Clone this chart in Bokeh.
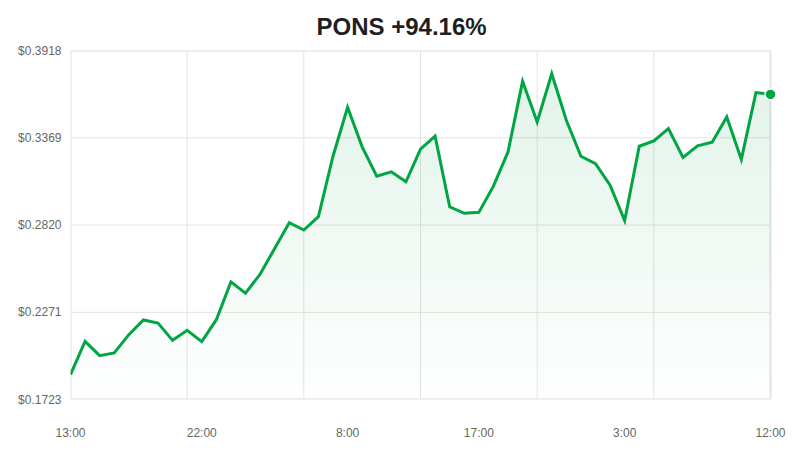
import numpy as np
from bokeh.plotting import figure
from bokeh.models import FixedTicker, PrintfTickFormatter, Range1d
from bokeh.embed import file_html
from bokeh.resources import INLINE

title_text = "PONS +94.16%"
prices = [0.1880, 0.2089, 0.1999, 0.2016, 0.2131, 0.2223, 0.2204, 0.2095, 0.2158, 0.2087,
          0.2225, 0.2463, 0.2392, 0.2511, 0.2673, 0.2835, 0.2789, 0.2873, 0.3253, 0.3561,
          0.3312, 0.3128, 0.3155, 0.3092, 0.3297, 0.3379, 0.2935, 0.2894, 0.2900, 0.3065,
          0.3280, 0.3724, 0.3468, 0.3772, 0.3479, 0.3253, 0.3207, 0.3071, 0.2848, 0.3316,
          0.3349, 0.3427, 0.3245, 0.3318, 0.3341, 0.3500, 0.3233, 0.3653, 0.3642]
x_tick_idx = [0, 9, 19, 28, 38, 48]
x_tick_labels = ["13:00", "22:00", "8:00", "17:00", "3:00", "12:00"]
x_grid_idx = [0, 8, 16, 24, 32, 40, 48]
y_ticks = [0.1723, 0.2271, 0.2820, 0.3369, 0.3918]

GREEN = "#02a543"
GRID = "#e3e3e3"
FONT = "Liberation Sans"

idx = np.arange(len(prices))
x0, x1 = 0, len(prices) - 1
y0, y1 = y_ticks[0], y_ticks[-1]
PX_PER_STEP = 700 / (x1 - x0)
RIGHT_PAD_PX = 7
x_end = x1 + RIGHT_PAD_PX / PX_PER_STEP  # room so the end dot is not cut off

p = figure(width=792, height=442, output_backend="svg", toolbar_location=None,
           x_range=Range1d(x0, x_end), y_range=Range1d(y0, y1),
           min_border_left=70, min_border_right=15, min_border_bottom=42,
           min_border_top=50, title=title_text)
p.background_fill_color = "white"
p.border_fill_color = "white"
p.outline_line_color = None
p.xgrid.visible = False
p.ygrid.visible = False

p.title.text_font = FONT
p.title.text_font_size = "24px"
p.title.text_font_style = "bold"
p.title.text_color = "#1f1f1f"
p.title.align = "left"
p.title.offset = 246
p.title.vertical_align = "top"
p.title.standoff = 18

# grid lines (drawn as glyphs so they stop at the last data point)
vx = list(x_grid_idx)
p.segment(x0=vx, y0=[y0] * len(vx), x1=vx, y1=[y1] * len(vx),
          line_color=GRID, line_width=[2 if v in (x0, x1) else 1 for v in vx])
p.segment(x0=[x0] * len(y_ticks), y0=y_ticks, x1=[x1] * len(y_ticks), y1=y_ticks,
          line_color=GRID, line_width=[2.5 if v in (y0, y1) else 1 for v in y_ticks])

# gradient fill under the line (masked RGBA image)
W, H = 1400, 700
xs = (np.arange(W) + 0.5) / W * (x1 - x0) + x0
ys = (np.arange(H) + 0.5) / H * (y1 - y0) + y0
line_at = np.interp(xs, idx, prices)
mask = ys[:, None] <= line_at[None, :]
t = (ys - y0) / (y1 - y0)
alpha = 0.005 + 0.12 * t
img = np.zeros((H, W, 4), dtype=np.uint8)
img[..., 0] = 0
img[..., 1] = 150
img[..., 2] = 70
img[..., 3] = (np.clip(alpha, 0, 1)[:, None] * 255 * mask).astype(np.uint8)
img32 = img.view(np.uint32).reshape(H, W)
p.image_rgba(image=[img32], x=x0, y=y0, dw=x1 - x0, dh=y1 - y0)

p.line(idx, prices, line_color=GREEN, line_width=3, line_join="miter")
p.scatter([idx[-1]], [prices[-1]], size=11, fill_color=GREEN, line_color="white", line_width=1.5)

# axes
p.xaxis.ticker = FixedTicker(ticks=x_tick_idx)
p.xaxis.major_label_overrides = dict(zip(x_tick_idx, x_tick_labels))
p.yaxis.ticker = FixedTicker(ticks=y_ticks)
p.yaxis.formatter = PrintfTickFormatter(format="$%.4f")
for ax in (p.xaxis, p.yaxis):
    ax.axis_line_color = None
    ax.major_tick_line_color = None
    ax.minor_tick_line_color = None
    ax.major_tick_out = 0
    ax.major_tick_in = 0
    ax.minor_tick_out = 0
    ax.major_label_text_font = FONT
    ax.major_label_text_font_size = "12px"
    ax.major_label_text_color = "#666666"
p.xaxis.major_label_standoff = 26
p.yaxis.major_label_standoff = 9

open("out.html", "w").write(file_html(p, INLINE))
